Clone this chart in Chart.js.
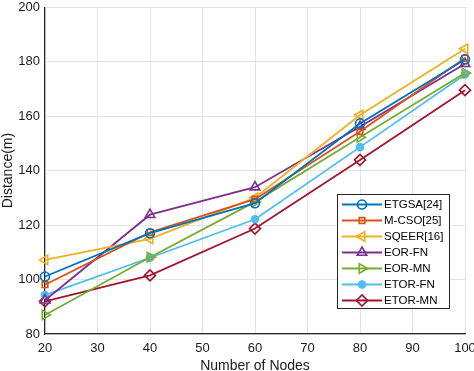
<!DOCTYPE html>
<html>
<head>
<meta charset="utf-8">
<script src="https://cdn.jsdelivr.net/npm/chart.js@4.4.1/dist/chart.umd.min.js"></script>
<style>
  html, body { margin: 0; padding: 0; background: #fff; }
  #wrap { width: 474px; height: 371px; position: relative; }
</style>
</head>
<body>
<div id="wrap"><canvas id="c" width="474" height="371"></canvas></div>
<script>
const nodes = [20, 40, 60, 80, 100];
const etgsa   = [101.1, 117.0, 128.0, 157.3, 180.8];
const mcso    = [98.1, 117.3, 129.5, 154.3, 181.3];
const sqeer   = [107.2, 114.9, 130.0, 160.4, 184.7];
const eorFN   = [92.4, 123.8, 133.9, 156.1, 179.2];
const eorMN   = [87.0, 108.2, 128.5, 152.2, 175.8];
const etorFN  = [94.3, 108.0, 122.1, 148.6, 175.3];
const etorMN  = [92.0, 101.5, 118.7, 143.9, 169.5];
const yTicks = [80, 100, 120, 140, 160, 180, 200];
const xTicks = [20, 30, 40, 50, 60, 70, 80, 90, 100];

function ds(label, data, color, style, rot, radius, filled) {
  return {
    label, data: data.map((v, i) => ({x: nodes[i], y: v})),
    borderColor: color, backgroundColor: filled ? color : 'rgba(255,255,255,0)',
    pointBorderColor: color, pointBackgroundColor: filled ? color : 'rgba(255,255,255,0)',
    pointStyle: style, pointRotation: rot, pointRadius: radius, pointBorderWidth: 1.6,
    borderWidth: 1.8, tension: 0, clip: false, fill: false
  };
}

const datasets = [
  ds('ETGSA[24]', etgsa, '#0072BD', 'circle', 0, 4.5, false),
  ds('M-CSO[25]', mcso, '#D95319', 'rect', 0, 4, false),
  ds('SQEER[16]', sqeer, '#EDB120', 'triangle', -90, 5.5, false),
  ds('EOR-FN', eorFN, '#7E2F8E', 'triangle', 0, 5.5, false),
  ds('EOR-MN', eorMN, '#77AC30', 'triangle', 90, 5.5, false),
  ds('ETOR-FN', etorFN, '#4DBEEE', 'circle', 0, 3.5, true),
  ds('ETOR-MN', etorMN, '#A2142F', 'rectRot', 0, 5.5, false)
];

const legendPlugin = {
  id: 'insideLegend',
  afterDraw(chart) {
    const ctx = chart.ctx;
    const x0 = 337, y0 = 194, w = 112, h = 114;
    ctx.save();
    ctx.fillStyle = '#fff';
    ctx.fillRect(x0, y0, w, h);
    ctx.strokeStyle = '#262626';
    ctx.lineWidth = 1;
    ctx.strokeRect(x0 + 0.5, y0 + 0.5, w, h);
    ctx.font = '11.5px "Liberation Sans", Arial, sans-serif';
    ctx.textBaseline = 'middle';
    chart.data.datasets.forEach((d, i) => {
      const cy = y0 + 10.5 + i * 16;
      ctx.strokeStyle = d.borderColor;
      ctx.lineWidth = d.borderWidth;
      ctx.beginPath();
      ctx.moveTo(342, cy);
      ctx.lineTo(382, cy);
      ctx.stroke();
      ctx.lineWidth = d.pointBorderWidth;
      ctx.fillStyle = d.pointBackgroundColor;
      Chart.helpers.drawPoint(ctx, {
        pointStyle: d.pointStyle, rotation: d.pointRotation,
        radius: d.pointRadius, borderWidth: d.pointBorderWidth
      }, 362, cy);
      ctx.fillStyle = '#000';
      ctx.fillText(d.label, 384, cy + 0.5);
    });
    ctx.restore();
  }
};

const fontFam = '"Liberation Sans", Arial, sans-serif';

new Chart(document.getElementById('c'), {
  type: 'line',
  data: { datasets },
  plugins: [legendPlugin],
  options: {
    responsive: false, animation: false,
    layout: { padding: { top: 4.6, right: 9, left: 0, bottom: 0 } },
    plugins: { legend: { display: false }, tooltip: { enabled: false } },
    scales: {
      x: {
        type: 'linear', min: 20, max: 100,
        afterBuildTicks: (s) => { s.ticks = xTicks.map(v => ({value: v})); },
        afterFit: (s) => { s.height = 37; s.paddingLeft = 0; s.paddingRight = 0; },
        border: { display: true, color: '#262626', width: 1.2 },
        grid: { color: '#e3e3e3', lineWidth: 1, drawTicks: false },
        ticks: { color: '#1a1a1a', font: { family: fontFam, size: 13 }, padding: 7, maxRotation: 0 },
        title: { display: true, text: 'Number of Nodes', color: '#1a1a1a', font: { family: fontFam, size: 14, lineHeight: 0.7 }, padding: { top: 3, bottom: 0 } }
      },
      y: {
        type: 'linear', min: 80, max: 200,
        afterBuildTicks: (s) => { s.ticks = yTicks.map(v => ({value: v})); },
        afterFit: (s) => { s.width = 45; s.paddingTop = 0; s.paddingBottom = 0; },
        border: { display: true, color: '#262626', width: 1.2 },
        grid: { color: '#e3e3e3', lineWidth: 1, drawTicks: false },
        ticks: { color: '#1a1a1a', font: { family: fontFam, size: 13 }, padding: 5 },
        title: { display: true, text: 'Distance(m)', color: '#1a1a1a', font: { family: fontFam, size: 14 }, padding: { top: 0, bottom: 2 } }
      }
    }
  }
});
</script>
</body>
</html>
